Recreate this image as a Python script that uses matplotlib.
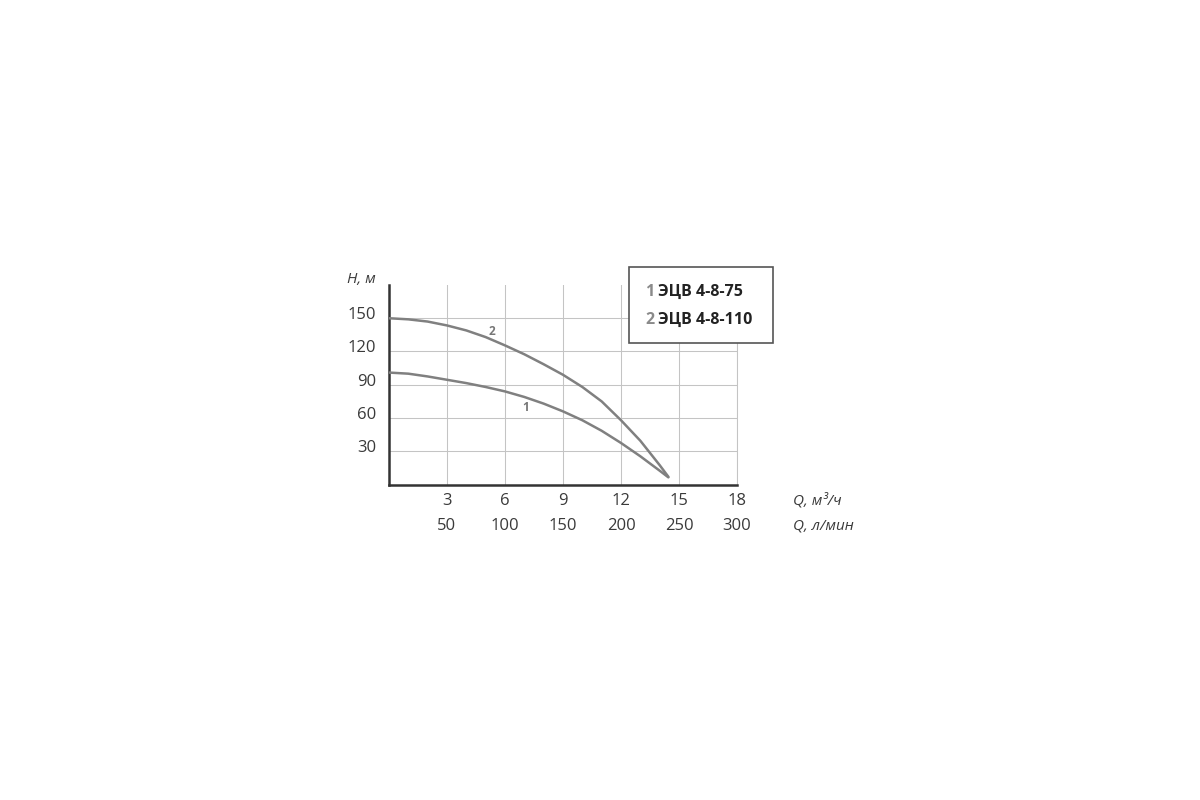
import matplotlib.pyplot as plt
from matplotlib.patches import Rectangle
from matplotlib.transforms import ScaledTranslation

plt.rcParams['font.family'] = ['Open Sans', 'DejaVu Sans']

# flow, m3/h -> head, m
q1 = [0, 1, 2, 3, 4, 5, 6, 7, 8, 9, 10, 11, 12, 13, 14, 14.45]
h1 = [101, 100, 97.5, 94.5, 91.5, 88, 84, 79, 73, 66, 58, 48.5, 37.5, 25.5, 12.5, 6.5]
q2 = [0, 1, 2, 3, 4, 5, 6, 7, 8, 9, 10, 11, 12, 13, 14, 14.45]
h2 = [150, 149, 147, 143.5, 139, 133, 125.5, 117.5, 108.5, 99, 88, 75, 58, 39.5, 17.5, 7]

x_ticks = [3, 6, 9, 12, 15, 18]
lpm_labels = ["50", "100", "150", "200", "250", "300"]
y_ticks = [30, 60, 90, 120, 150]
legend_nums = ["1", "2"]
legend_names = ["ЭЦВ 4-8-75", "ЭЦВ 4-8-110"]

curve_col = "#808080"
grid_col = "#c4c4c4"
text_col = "#3a3a3a"

fig = plt.figure(figsize=(12, 8), dpi=100)
ax = fig.add_axes([0.3241, 0.3943, 0.2901, 0.2495])

ax.plot(q1, h1, color=curve_col, lw=1.8, solid_capstyle="round",
        solid_joinstyle="round", zorder=3)
ax.plot(q2, h2, color=curve_col, lw=1.8, solid_capstyle="round",
        solid_joinstyle="round", zorder=3)
ax.text(5.3, 137.6, "2", color="#777777", fontsize=8.5, fontweight="bold",
        ha="center", va="center")
ax.text(7.06, 69.6, "1", color="#777777", fontsize=8.5, fontweight="bold",
        ha="center", va="center")

ax.set_xlim(0, 18)
ax.set_ylim(0, 180)
ax.set_xticks(x_ticks)
ax.set_yticks(y_ticks)
ax.grid(True, color=grid_col, lw=0.75)
ax.tick_params(length=0)
ax.set_xticklabels([])
ax.set_yticklabels([str(v) for v in y_ticks], fontsize=12, color=text_col)
ax.tick_params(axis="y", pad=9)
shift = ScaledTranslation(0, 5 / 100, fig.dpi_scale_trans)
for lab in ax.get_yticklabels():
    lab.set_transform(lab.get_transform() + shift)

for s in ["left", "bottom"]:
    ax.spines[s].set_color("#333333")
    ax.spines[s].set_linewidth(1.8)
ax.spines["top"].set_visible(False)
ax.spines["right"].set_color(grid_col)
ax.spines["right"].set_linewidth(0.75)

# two rows of flow labels under the axis
for q, lpm in zip(x_ticks, lpm_labels):
    ax.annotate(str(q), xy=(q, 0), xycoords=("data", "axes fraction"),
                xytext=(0, -11.8), textcoords="offset points",
                ha="center", va="center", fontsize=12, color=text_col)
    ax.annotate(lpm, xy=(q, 0), xycoords=("data", "axes fraction"),
                xytext=(0, -30.0), textcoords="offset points",
                ha="center", va="center", fontsize=12, color=text_col)

ax.annotate("Q, м³/ч", xy=(1, 0), xycoords="axes fraction",
            xytext=(40.3, -12.0), textcoords="offset points",
            ha="left", va="center", fontsize=11, style="italic", color=text_col)
ax.annotate("Q, л/мин", xy=(1, 0), xycoords="axes fraction",
            xytext=(40.3, -30.0), textcoords="offset points",
            ha="left", va="center", fontsize=11, style="italic", color=text_col)
ax.annotate("H, м", xy=(0, 1), xycoords="axes fraction",
            xytext=(-9.5, 3.6), textcoords="offset points",
            ha="right", va="center", fontsize=11, style="italic", color=text_col)

# legend box
box = Rectangle((0.5242, 0.57125), 0.12, 0.095, transform=fig.transFigure,
                facecolor="white", edgecolor="#555555", lw=1.2, zorder=5)
fig.patches.append(box)
for i, (num, name) in enumerate(zip(legend_nums, legend_names)):
    y = 1 - (292 + 28 * i) / 800
    fig.text(0.5375, y, num, color="#8a8a8a", fontsize=11.5, fontweight="bold",
             ha="left", va="center", zorder=6)
    fig.text(0.5485, y, name, color="#222222", fontsize=11.5, fontweight="bold",
             ha="left", va="center", zorder=6)

fig.savefig("out.png", dpi=100, facecolor="white")
